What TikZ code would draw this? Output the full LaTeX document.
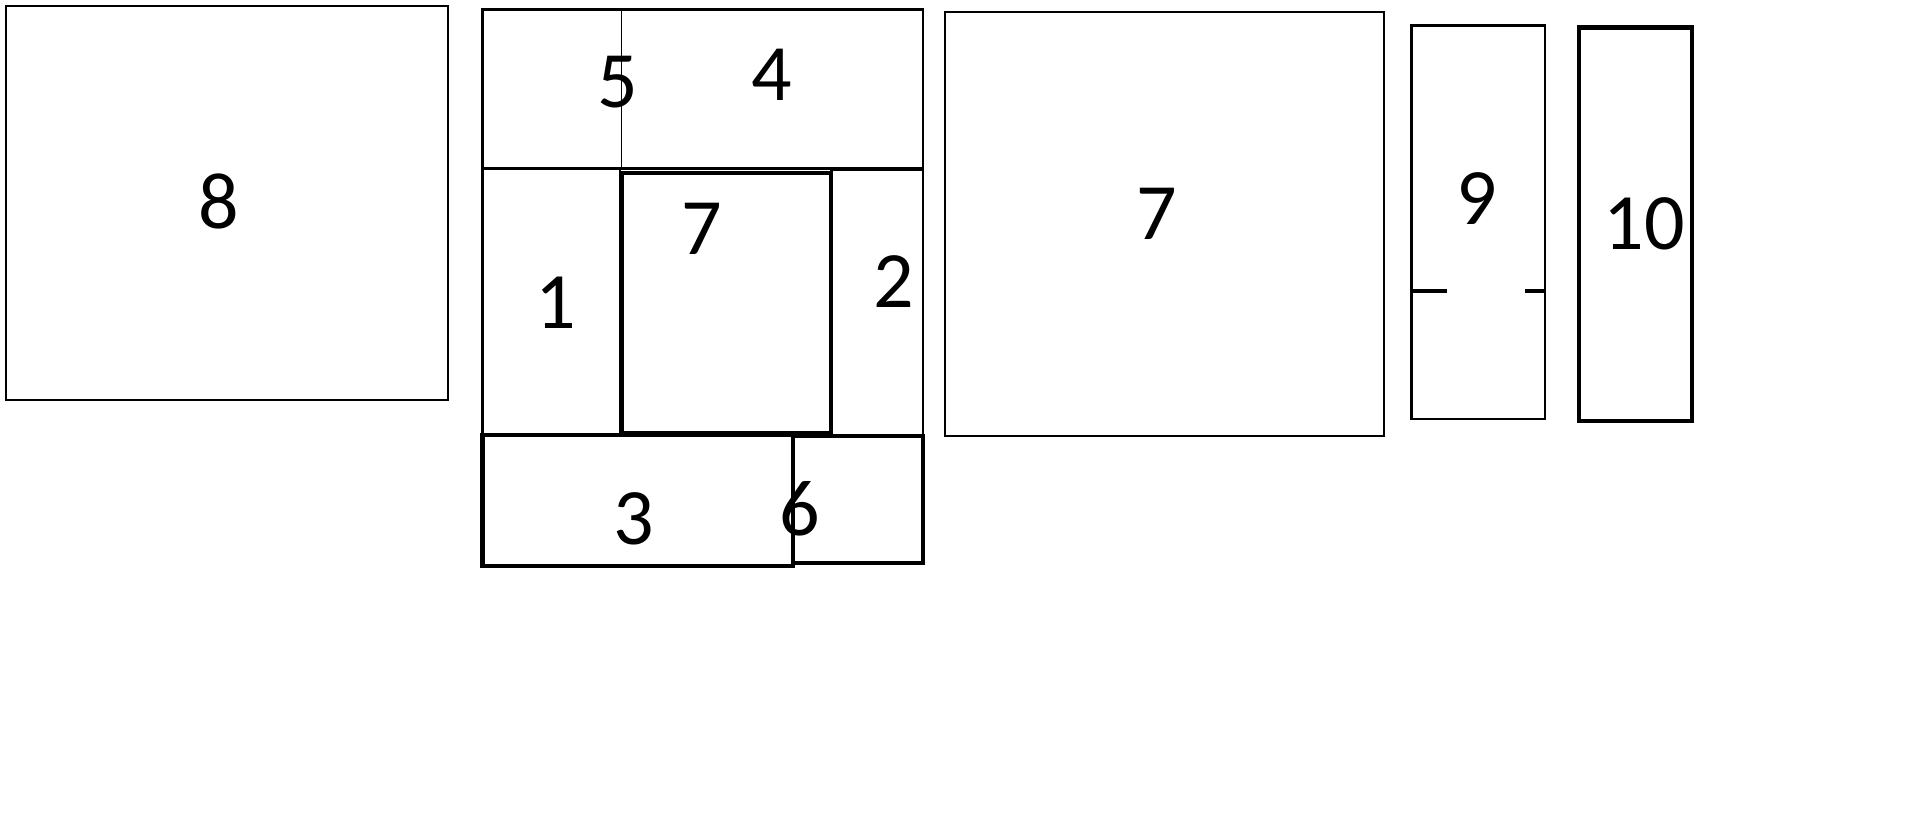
\documentclass[tikz,border=0pt]{standalone}
\usepackage{fontspec}
\setmainfont{Carlito}
\begin{document}
\begin{tikzpicture}[x=1pt,y=-1pt,
  thinbox/.style={draw=black,line width=2.9pt},
  thickbox/.style={draw=black,line width=4.3pt},
  num/.style={inner sep=0pt,font=\fontsize{80}{90}\selectfont}]
\useasboundingbox[fill=white] (0,0) rectangle (1910,821);
% box 8
\draw[thinbox] (6,6) rectangle (448,400);
\node[num] (n8) at (218.6,201) {8};
% central group
\draw[thinbox] (482.5,9.6) rectangle (923,168.8);
\draw[draw=black,line width=1.8pt] (621.5,9.6) -- (621.5,168.8);
\node[num] (n5) at (618,82) {5};
\node[num] (n4) at (771.6,75) {4};
\draw[thinbox] (482.5,168.8) rectangle (620,435);
\node[num] (n1) at (556,303) {1};
\draw[thickbox] (621.5,173) rectangle (831,433);
\node[num] (n7a) at (702,228.5) {7};
\draw[thinbox] (831,170) rectangle (923,435);
\node[num] (n2) at (894,282) {2};
\draw[thickbox] (482.5,435) rectangle (793,566);
\node[num] (n3) at (634,518.6) {3};
\draw[thickbox] (793,436) rectangle (923,563);
\node[num] (n6) at (800,509) {6};
% big 7
\draw[thinbox] (945,12) rectangle (1384,436);
\node[num] (n7b) at (1156.6,214) {7};
% box 9
\draw[thinbox] (1411.5,25.6) rectangle (1545,419);
\draw[thickbox] (1411.5,291) -- (1447.4,291);
\draw[thickbox] (1524.8,291) -- (1545,291);
\node[num] (n9) at (1476.5,199) {9};
% box 10
\draw[thickbox] (1579,27.6) rectangle (1692,421);
\node[num] (n10) at (1644,224) {10};
\end{tikzpicture}
\end{document}
